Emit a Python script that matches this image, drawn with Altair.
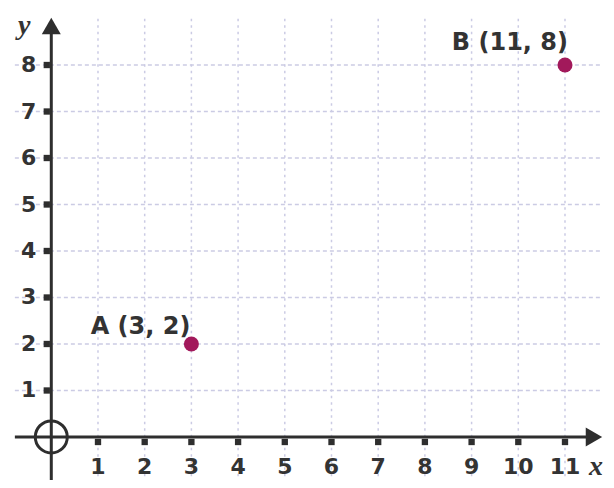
import altair as alt
import pandas as pd

# ---- data ----
x_ticks = list(range(1, 12))
y_ticks = list(range(1, 9))
point_names = ["A", "B"]
point_x = [3, 11]
point_y = [2, 8]
point_labels = ["A (3, 2)", "B (11, 8)"]

# ---- layout constants ----
W, H = 598, 472
XMIN, XMAX = -0.927, 11.878
YMIN, YMAX = -0.925, 9.226
GRID_LEFT, GRID_RIGHT = -0.78, 11.81
GRID_TOP = 9.01
X_ARROW = 11.62
Y_ARROW = 8.84

GRID = "#cbcbe4"
AX = "#2e2e2e"
TXT = "#333333"
PT = "#a2195b"
FONT = "DejaVu Sans"

xs = alt.Scale(domain=[XMIN, XMAX], nice=False, zero=False)
ys = alt.Scale(domain=[YMIN, YMAX], nice=False, zero=False)


def X(f="x"):
    return alt.X(f, type="quantitative", scale=xs, axis=None)


def Y(f="y"):
    return alt.Y(f, type="quantitative", scale=ys, axis=None)


# grid
hgrid_df = pd.DataFrame({"y": y_ticks, "x": GRID_LEFT, "x2": GRID_RIGHT})
vgrid_df = pd.DataFrame({"x": x_ticks, "y": YMIN - 0.2, "y2": GRID_TOP})

hgrid = alt.Chart(hgrid_df).mark_rule(color=GRID, strokeWidth=1.3, strokeDash=[4, 3]).encode(
    x=X(), x2="x2", y=Y())
vgrid = alt.Chart(vgrid_df).mark_rule(color=GRID, strokeWidth=1.5, strokeDash=[2.5, 4]).encode(
    x=X(), y=Y(), y2="y2")

# axes lines
xaxis_df = pd.DataFrame({"x": [GRID_LEFT], "x2": [X_ARROW], "y": [0]})
yaxis_df = pd.DataFrame({"x": [0], "y": [YMIN - 0.2], "y2": [Y_ARROW]})
xaxis = alt.Chart(xaxis_df).mark_rule(color=AX, strokeWidth=3).encode(x=X(), x2="x2", y=Y())
yaxis = alt.Chart(yaxis_df).mark_rule(color=AX, strokeWidth=3).encode(x=X(), y=Y(), y2="y2")

# arrows
xarrow = alt.Chart(pd.DataFrame({"x": [X_ARROW], "y": [0]})).mark_point(
    shape="triangle-right", filled=True, size=361, color=AX, opacity=1).encode(x=X(), y=Y())
yarrow = alt.Chart(pd.DataFrame({"x": [0], "y": [Y_ARROW]})).mark_point(
    shape="triangle-up", filled=True, size=361, color=AX, opacity=1).encode(x=X(), y=Y())

# tick squares
xt_df = pd.DataFrame({"x": x_ticks, "y": 0, "label": [str(v) for v in x_ticks]})
yt_df = pd.DataFrame({"x": 0, "y": y_ticks, "label": [str(v) for v in y_ticks]})
xsq = alt.Chart(xt_df).mark_square(size=40, color=AX, opacity=1, yOffset=5).encode(x=X(), y=Y())
ysq = alt.Chart(yt_df).mark_square(size=40, color=AX, opacity=1, xOffset=-4.5).encode(x=X(), y=Y())

# tick labels
xlab = alt.Chart(xt_df).mark_text(font=FONT, fontWeight="bold", fontSize=22, color=TXT,
                                  align="center", baseline="middle", dy=30).encode(
    x=X(), y=Y(), text="label:N")
ylab = alt.Chart(yt_df).mark_text(font=FONT, fontWeight="bold", fontSize=22, color=TXT,
                                  align="right", baseline="middle", dx=-15).encode(
    x=X(), y=Y(), text="label:N")

# origin circle
origin = alt.Chart(pd.DataFrame({"x": [0], "y": [0]})).mark_point(
    shape="circle", filled=False, size=1024, color=AX, strokeWidth=3, opacity=1).encode(x=X(), y=Y())

# points
pts_df = pd.DataFrame({"name": point_names, "x": point_x, "y": point_y, "label": point_labels})
pts = alt.Chart(pts_df).mark_circle(size=225, color=PT, opacity=1).encode(x=X(), y=Y())

labA = alt.Chart(pts_df).transform_filter(alt.datum.name == "A").mark_text(
    font=FONT, fontWeight="bold", fontSize=24, color=TXT, align="right",
    baseline="alphabetic", dx=-1, dy=-10).encode(x=X(), y=Y(), text="label:N")
labB = alt.Chart(pts_df).transform_filter(alt.datum.name == "B").mark_text(
    font=FONT, fontWeight="bold", fontSize=24, color=TXT, align="right",
    baseline="alphabetic", dx=3, dy=-15).encode(x=X(), y=Y(), text="label:N")

# axis names
yname = alt.Chart(pd.DataFrame({"x": [0], "y": [Y_ARROW], "t": ["y"]})).mark_text(
    font="Liberation Serif", fontStyle="italic", fontWeight="bold", fontSize=28, color=TXT,
    align="center", baseline="middle", dx=-27, dy=0).encode(x=X(), y=Y(), text="t:N")
xname = alt.Chart(pd.DataFrame({"x": [X_ARROW], "y": [0], "t": ["x"]})).mark_text(
    font="Liberation Serif", fontStyle="italic", fontWeight="bold", fontSize=28, color=TXT,
    align="center", baseline="middle", dx=2, dy=30).encode(x=X(), y=Y(), text="t:N")

chart = alt.layer(
    hgrid, vgrid, xaxis, yaxis, xarrow, yarrow, xsq, ysq, xlab, ylab, origin, pts,
    labA, labB, yname, xname
).properties(
    width=W, height=H, padding=0, autosize=alt.AutoSizeParams(type="none"), background="white"
).configure_view(stroke=None)

chart.save("out.html", embed_options={"renderer": "svg", "actions": False})
